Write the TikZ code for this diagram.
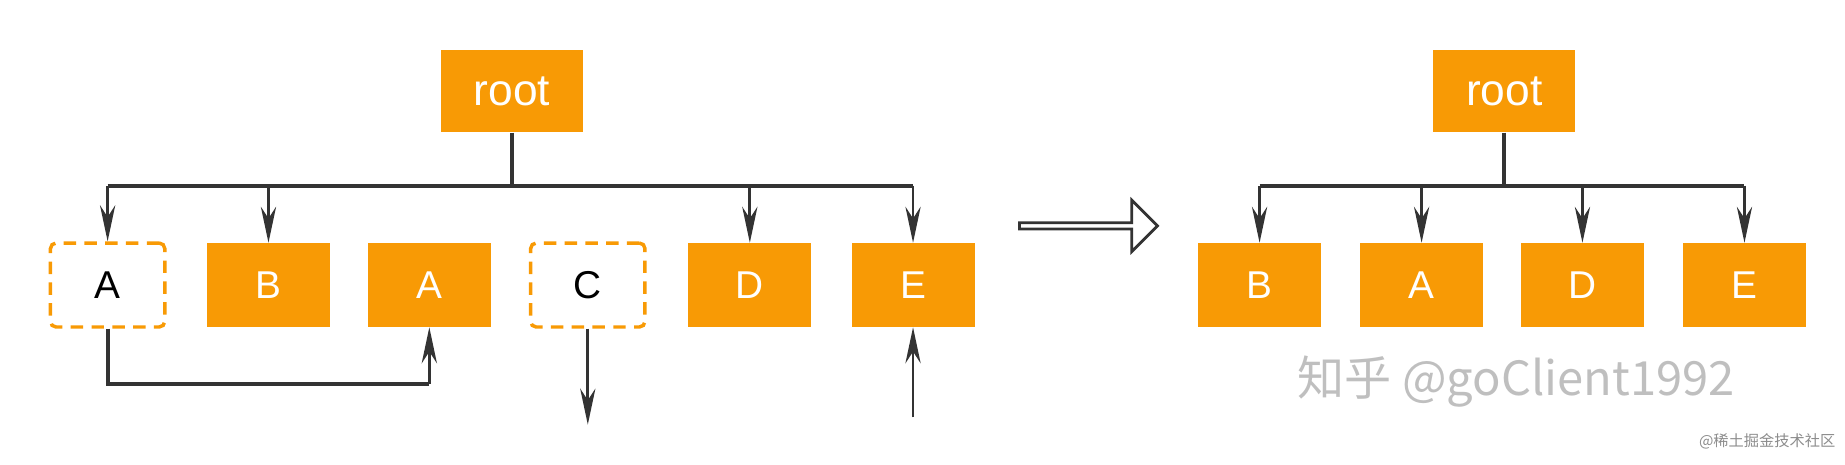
\documentclass[tikz,border=0pt]{standalone}
\usepackage{fontspec}
\setmainfont{Liberation Sans}
\newfontfamily\cjk{Noto Sans CJK SC}
\usetikzlibrary{arrows.meta,shapes.arrows}
\definecolor{treeorange}{HTML}{F89A05}
\definecolor{treeline}{HTML}{333333}
\tikzset{
    leaf/.style={fill=treeorange,text=white,minimum width=3.12cm,minimum height=2.13cm,inner sep=0pt,font=\fontsize{28}{32}\selectfont},
    gone/.style={draw=treeorange,line width=2.5pt,dash pattern=on 9pt off 6pt,rounded corners=4pt,text=black,minimum width=2.9cm,minimum height=2.13cm,inner sep=0pt,font=\fontsize{28}{32}\selectfont},
    top/.style={fill=treeorange,text=white,minimum width=3.6cm,minimum height=2.1cm,inner sep=0pt,font=\fontsize{32}{36}\selectfont},
    link/.style={draw=treeline,line width=2pt,-{Stealth[length=26pt,width=11pt]}},
    bar/.style={draw=treeline,line width=3pt},
}
\begin{document}
\begin{tikzpicture}[x=0.03cm,y=0.03cm]
    \useasboundingbox (0,0) rectangle (1560,393);
    % left tree
    \node[top] (rootL) at (433,316) {root};
    \node[gone] (a1) at (91,152) {A};
    \node[leaf] (b1) at (227,152) {B};
    \node[leaf] (a2) at (363,152) {A};
    \node[gone] (c1) at (497,152) {C};
    \node[leaf] (d1) at (634,152) {D};
    \node[leaf] (e1) at (772,152) {E};
    \coordinate (barL) at (433,236);
    \draw[bar] (rootL.south) -- (barL);
    \draw[bar] (a1.north |- barL) -- (e1.north |- barL);
    \foreach \n in {a1,b1,d1,e1}{
        \draw[link] (\n.north |- barL) -- (\n.north);
    }
    \coordinate (moveL) at (91,68);
    \draw[bar] (a1.south) -- (moveL) -- (a2.south |- moveL);
    \draw[link] (a2.south |- moveL) -- (a2.south);
    \coordinate (cout) at (497,34);
    \draw[link] (c1.south) -- (cout);
    \coordinate (ein) at (772,40);
    \draw[link] (ein) -- (e1.south);
    % transition
    \node[single arrow,draw=treeline,line width=2pt,minimum height=3.5cm,minimum width=1.3cm,single arrow head extend=0.25cm,inner sep=0pt] (step1) at (919,202) {};
    % right tree
    \node[top] (rootR) at (1272,316) {root};
    \node[leaf] (b2) at (1065,152) {B};
    \node[leaf] (a3) at (1202,152) {A};
    \node[leaf] (d2) at (1338,152) {D};
    \node[leaf] (e2) at (1475,152) {E};
    \coordinate (barR) at (1272,236);
    \draw[bar] (rootR.south) -- (barR);
    \draw[bar] (b2.north |- barR) -- (e2.north |- barR);
    \foreach \n in {b2,a3,d2,e2}{
        \draw[link] (\n.north |- barR) -- (\n.north);
    }
    % watermark
    \node[text=black!25,font=\cjk\fontsize{34}{38}\selectfont,anchor=west] (mark) at (1093,70) {知乎 @goClient1992};
    \node[text=black!45,font=\cjk\fontsize{11}{13}\selectfont,anchor=east] (site) at (1556,20) {@稀土掘金技术社区};
\end{tikzpicture}
\end{document}
